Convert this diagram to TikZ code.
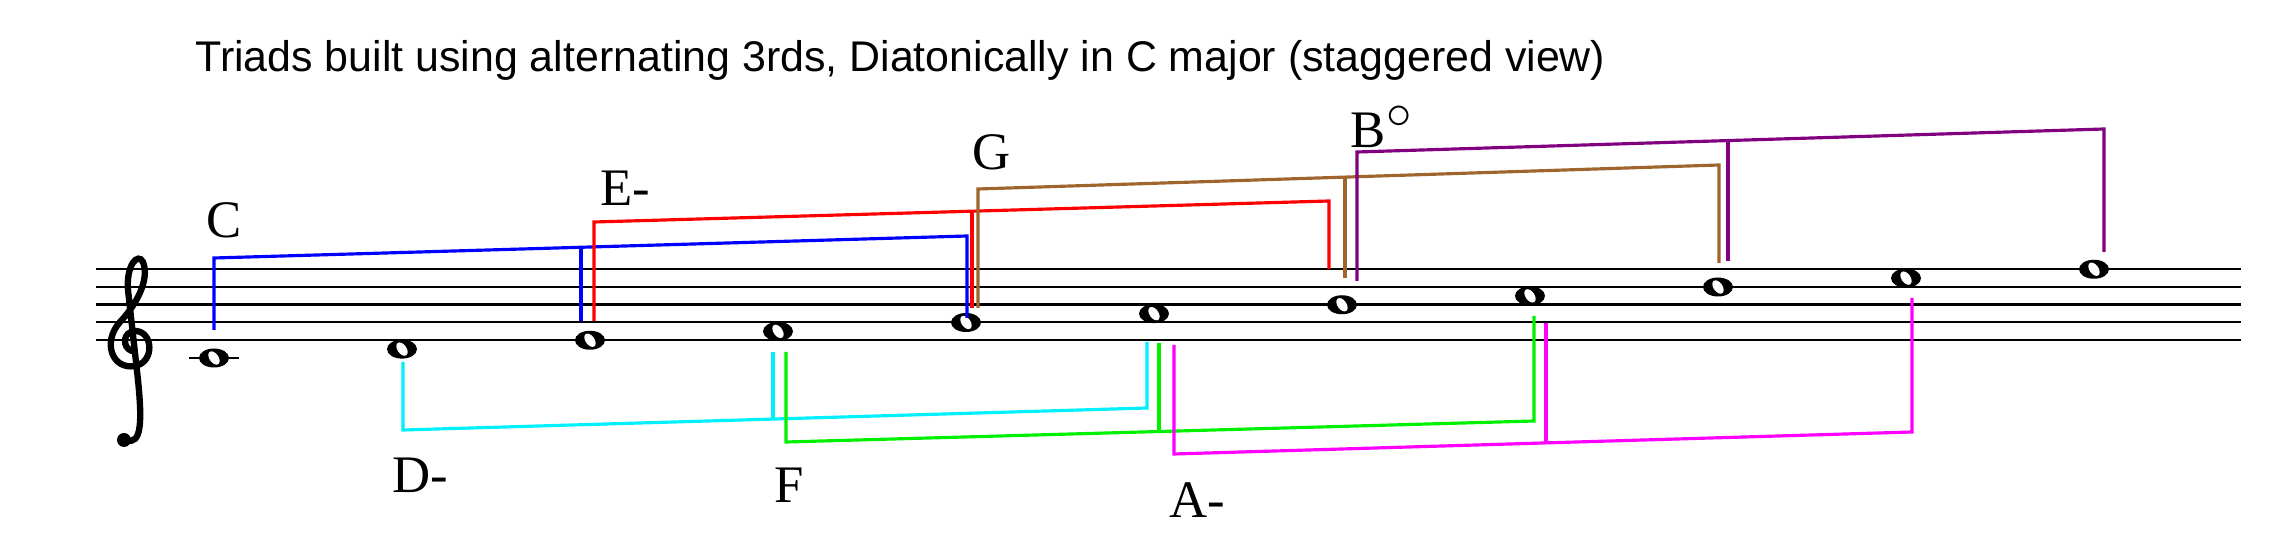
\documentclass[tikz,border=0pt]{standalone}
\usepackage{fontspec}
\setmainfont{Liberation Serif}
\newfontfamily\titlefont{Liberation Sans}
\usetikzlibrary{positioning}
\definecolor{brownline}{RGB}{160,100,45}
\definecolor{purpleline}{RGB}{128,0,128}
\definecolor{cyanline}{RGB}{0,240,255}
\definecolor{magentaline}{RGB}{255,0,255}
\definecolor{greenline}{RGB}{0,240,0}
\tikzset{
  staffline/.style={draw=black, line width=0.6pt},
  chordline/.style={line width=0.9pt, line cap=butt},
  notehead/.style={inner sep=0pt, minimum width=0.3cm, minimum height=0.19cm},
  chordlabel/.style={font=\fontsize{15}{17}\selectfont},
}
\begin{document}
\begin{tikzpicture}[x=0.01cm, y=-0.01cm]
\def\xnote {214}   % x-position of the first note
\def\dxnote {188}  % distance between two notes
\def\ynote {358}   % y-position of the first note (low C)
\def\dynote {8.875}% half of a staff space
\useasboundingbox (0,0) rectangle (2271,540);
% title:
\node[anchor=west, font=\titlefont\fontsize{12.2}{14}\selectfont] (title) at (183,60)
  {Triads built using alternating 3rds, Diatonically in C major (staggered view)};
% staff:
\foreach \i in {0,...,4}
  \draw[staffline] (96,{269+17.75*\i}) -- (2241,{269+17.75*\i});
% clef:
\draw[line width=1.8pt, line cap=round] (126,440) .. controls (142,446) and (142,420) .. (138,380)
  -- (128,290) .. controls (126,265) and (138,252) .. (143,262)
  .. controls (150,280) and (136,305) .. (120,322)
  .. controls (102,342) and (112,370) .. (135,366)
  .. controls (155,362) and (153,332) .. (136,331)
  .. controls (122,331) and (122,348) .. (132,351);
\fill (124,440) circle (7);
% notes:
\draw[line width=0.7pt] (189,\ynote) -- (239,\ynote);
\foreach \i in {0,...,10}{
  \node[notehead] (n\i) at ({\xnote+\dxnote*\i},{\ynote-\dynote*\i}) {};
  \fill (n\i.center) ellipse (15 and 9.5);
  \begin{scope}[shift={(n\i.center)}, rotate=35]
    \fill[white] (0,0) ellipse (4.5 and 7.5);
  \end{scope}
}
% chord names:
\node[chordlabel] (lC) at (224,220) {C};
\node[chordlabel] (lE) at (625,188) {E-};
\node[chordlabel] (lG) at (992,152) {G};
\node[chordlabel] (lB) at (1382,127) {B\textsuperscript{\Large$\circ$}};
\node[chordlabel] (lD) at (420,475) {D-};
\node[chordlabel] (lF) at (789,485) {F};
\node[chordlabel] (lA) at (1197,500) {A-};
% upper chords:
\draw[chordline, blue] (214,330) -- (214,258) -- (967,236) -- (967,318);
\draw[chordline, blue] (581,321) -- (581,247);
\draw[chordline, red] (594,321) -- (594,222) -- (1329,201) -- (1329,269);
\draw[chordline, red] (972,308) -- (972,211);
\draw[chordline, brownline] (978,308) -- (978,189) -- (1719,165) -- (1719,263);
\draw[chordline, brownline] (1345,278) -- (1345,177);
\draw[chordline, purpleline] (1357,281) -- (1357,152) -- (2104,129) -- (2104,252);
\draw[chordline, purpleline] (1728,261) -- (1728,141);
% lower chords:
\draw[chordline, cyanline] (403,362) -- (403,430) -- (1147,408) -- (1147,342);
\draw[chordline, cyanline] (773,352) -- (773,419);
\draw[chordline, greenline] (786,352) -- (786,442) -- (1534,421) -- (1534,316);
\draw[chordline, greenline] (1159,343) -- (1159,431.5);
\draw[chordline, magentaline] (1174,345) -- (1174,454) -- (1912,432) -- (1912,298);
\draw[chordline, magentaline] (1546,323) -- (1546,443);
\end{tikzpicture}
\end{document}
